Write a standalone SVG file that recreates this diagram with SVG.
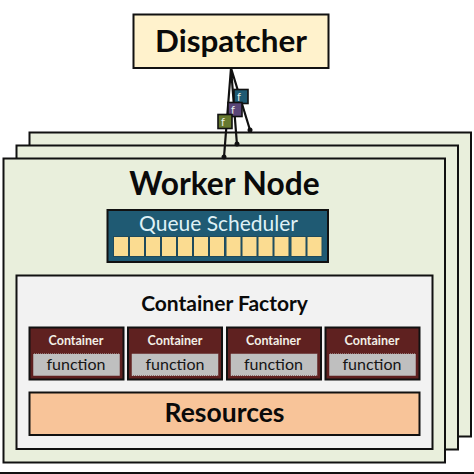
<svg xmlns="http://www.w3.org/2000/svg" width="474" height="474" viewBox="0 0 474 474">
<style>
text{font-family:Lato,"Open Sans","Liberation Sans",sans-serif;text-anchor:middle}
.b{font-weight:700;fill:#0a0a0a}
.w{fill:#e9efdc;stroke:#111;stroke-width:2}
.cell{fill:#fbdc91;stroke:#1f4a5c;stroke-width:1}
.c{fill:#5f2120;stroke:#111;stroke-width:2}
.fn{fill:#bfbfbf;stroke:#5f2120;stroke-width:1;stroke-dasharray:1 1}
.ct{font-size:12.500px;font-weight:700;fill:#f3efe6}
.ft{font-size:16px;fill:#151515}
.l{stroke:#111;stroke-width:2.2;fill:none}
.f{stroke:#111;stroke-width:1.6}
.ftx{font-size:11px;fill:#e8f0e8}
</style>
<rect width="474" height="474" fill="#fff"/>
<g id="dispatcher"><rect x="133.500" y="14.500" width="195" height="53.500" fill="#fff2cc" stroke="#111" stroke-width="2"/><text class="b" x="231" y="52" font-size="31.400">Dispatcher</text></g>
<g id="worker-back"><rect class="w" x="29.500" y="132.500" width="441.500" height="304"/></g>
<g id="worker-mid"><rect class="w" x="16.500" y="145.500" width="441.500" height="304"/></g>
<g id="worker-node"><rect class="w" x="3.500" y="158.500" width="441.500" height="304"/><text class="b" x="224.500" y="195" font-size="31.700">Worker Node</text></g>
<g id="connectors">
<path class="l" d="M231 68L250 130M231 68L237 145M231 68L224 157"/>
<circle cx="250" cy="130" r="2.500" fill="#111"/><circle cx="237" cy="144" r="2.500" fill="#111"/><circle cx="224" cy="157" r="2.500" fill="#111"/>
</g>
<g id="f-blue"><rect class="f" x="234" y="89.500" width="14" height="14" fill="#1f5a73"/><text class="ftx" x="239" y="100.500">f</text></g>
<g id="f-purple"><rect class="f" x="228" y="102.500" width="14" height="14" fill="#5a4678"/><text class="ftx" x="233" y="113.500">f</text></g>
<g id="f-green"><rect class="f" x="218" y="114.500" width="14" height="14" fill="#66782f"/><text class="ftx" x="223" y="125.500">f</text></g>
<g id="queue-scheduler"><rect x="107.500" y="210" width="220.500" height="52" fill="#1f5a73" stroke="#111" stroke-width="2"/><text x="218.500" y="231" font-size="21" fill="#dff1f6">Queue Scheduler</text>
<g class="cell"><rect x="113.500" y="236.500" width="15" height="20"/><rect x="129.500" y="236.500" width="15" height="20"/><rect x="145.500" y="236.500" width="15" height="20"/><rect x="161.500" y="236.500" width="15" height="20"/><rect x="177.500" y="236.500" width="15" height="20"/><rect x="193.500" y="236.500" width="15" height="20"/><rect x="209.500" y="236.500" width="15" height="20"/><rect x="226" y="236.500" width="15" height="20"/><rect x="242" y="236.500" width="15" height="20"/><rect x="258" y="236.500" width="15" height="20"/><rect x="274" y="236.500" width="15" height="20"/><rect x="291" y="236.500" width="15" height="20"/><rect x="307" y="236.500" width="15" height="20"/></g></g>
<g id="container-factory"><rect x="16.500" y="275.500" width="416" height="173.500" fill="#f2f2f2" stroke="#111" stroke-width="2"/><text class="b" x="224.500" y="311" font-size="21">Container Factory</text></g>
<g id="container-1"><rect class="c" x="29.500" y="327.500" width="94" height="52"/><rect class="fn" x="33" y="353.500" width="87" height="22.500"/><text class="ct" x="76" y="344.500">Container</text><text class="ft" x="76" y="370">function</text></g>
<g id="container-2"><rect class="c" x="128" y="327.500" width="94" height="52"/><rect class="fn" x="131.500" y="353.500" width="87" height="22.500"/><text class="ct" x="175" y="344.500">Container</text><text class="ft" x="175" y="370">function</text></g>
<g id="container-3"><rect class="c" x="227" y="327.500" width="94" height="52"/><rect class="fn" x="230.500" y="353.500" width="87" height="22.500"/><text class="ct" x="273.500" y="344.500">Container</text><text class="ft" x="273.500" y="370">function</text></g>
<g id="container-4"><rect class="c" x="325.500" y="327.500" width="94" height="52"/><rect class="fn" x="329" y="353.500" width="87" height="22.500"/><text class="ct" x="372" y="344.500">Container</text><text class="ft" x="372" y="370">function</text></g>
<g id="resources"><rect x="29.500" y="392.500" width="390" height="42.500" fill="#f8c499" stroke="#111" stroke-width="2"/><text class="b" x="224.500" y="422" font-size="26.500">Resources</text></g>
<rect x="0" y="472" width="474" height="2" fill="#111"/>
</svg>
